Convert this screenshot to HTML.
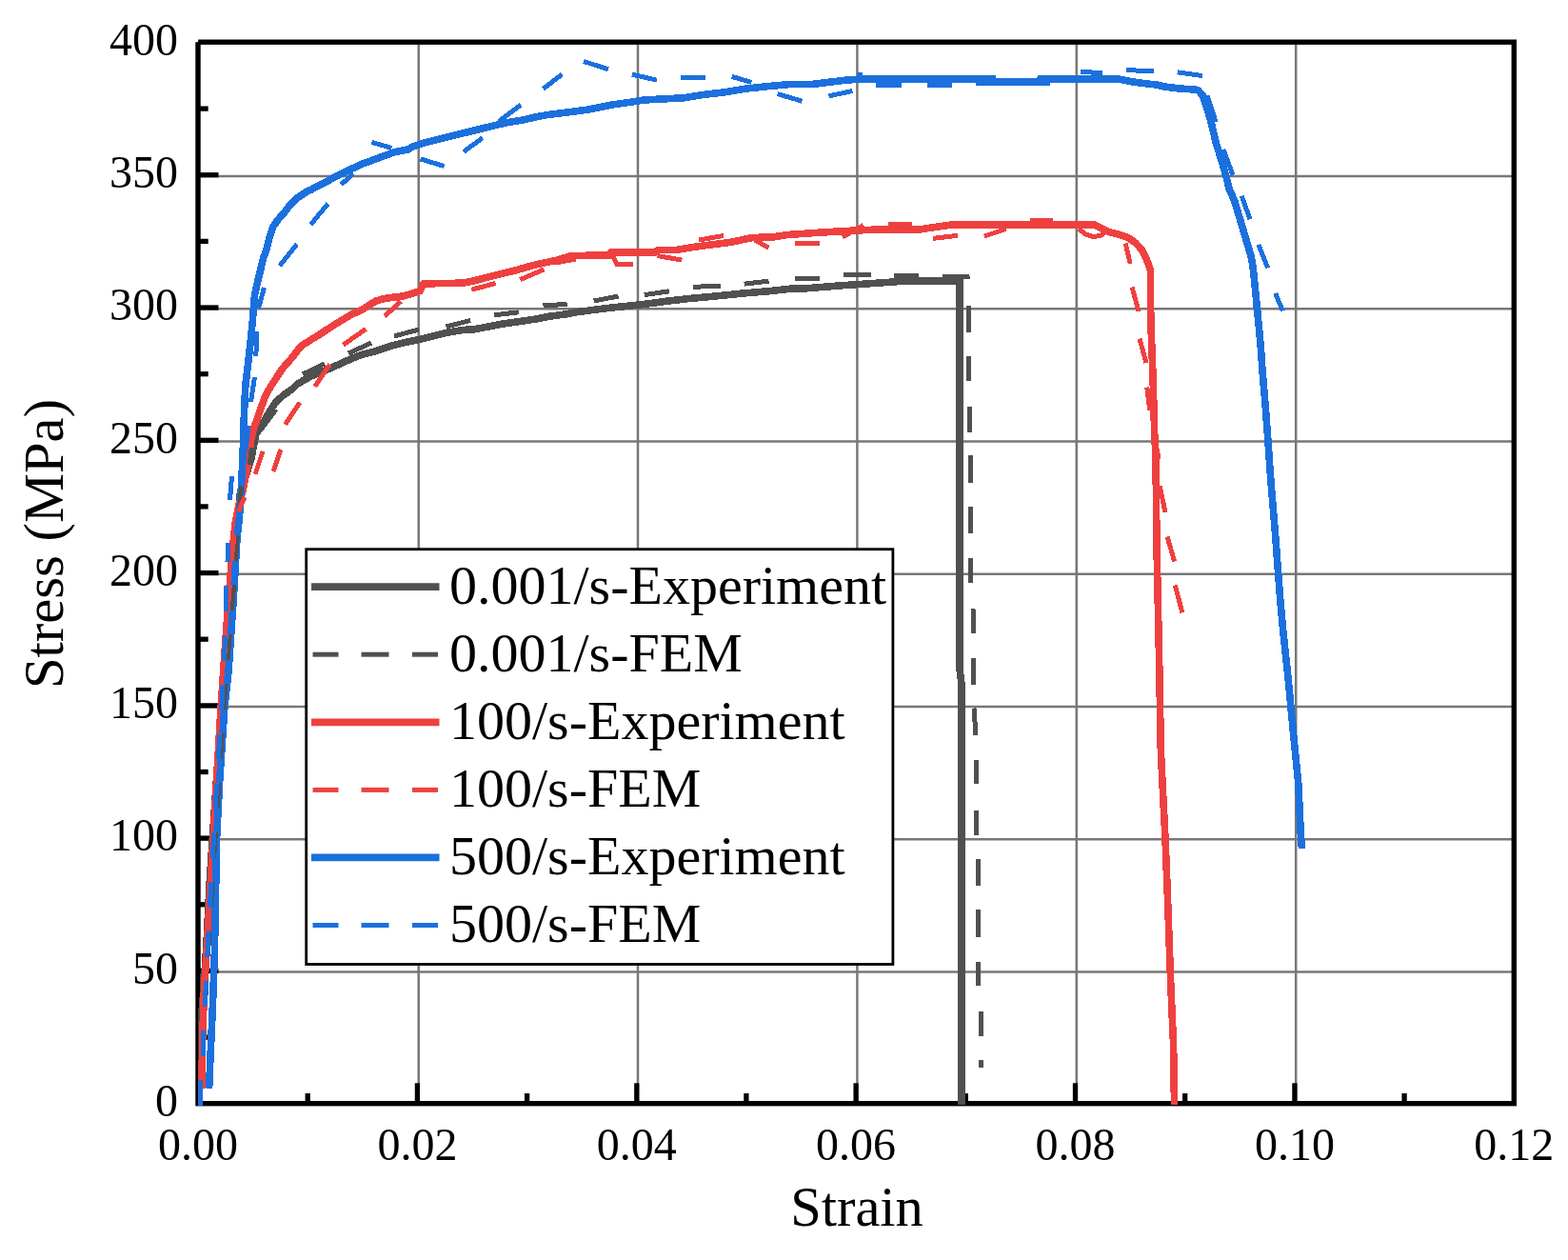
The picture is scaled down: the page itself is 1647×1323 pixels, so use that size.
<!DOCTYPE html>
<html><head><meta charset="utf-8"><title>Stress-Strain</title>
<style>
html,body{margin:0;padding:0;background:#fff;}
svg{display:block;}
.t{font-family:'Liberation Serif',serif;font-size:48px;fill:#000;}
.ax{font-family:'Liberation Serif',serif;font-size:58.5px;fill:#000;}
.lg{font-family:'Liberation Serif',serif;font-size:58px;fill:#000;}
</style></head><body>
<svg width="1647" height="1323" viewBox="0 0 1647 1323">
<rect width="1647" height="1323" fill="#fff"/>
<line x1="439.7" y1="47" x2="439.7" y2="1156" stroke="#777" stroke-width="2.5"/>
<line x1="670.0" y1="47" x2="670.0" y2="1156" stroke="#777" stroke-width="2.5"/>
<line x1="900.4" y1="47" x2="900.4" y2="1156" stroke="#777" stroke-width="2.5"/>
<line x1="1130.8" y1="47" x2="1130.8" y2="1156" stroke="#777" stroke-width="2.5"/>
<line x1="1361.2" y1="47" x2="1361.2" y2="1156" stroke="#777" stroke-width="2.5"/>
<line x1="211" y1="1020.6" x2="1588" y2="1020.6" stroke="#777" stroke-width="2.5"/>
<line x1="211" y1="881.3" x2="1588" y2="881.3" stroke="#777" stroke-width="2.5"/>
<line x1="211" y1="742.1" x2="1588" y2="742.1" stroke="#777" stroke-width="2.5"/>
<line x1="211" y1="602.8" x2="1588" y2="602.8" stroke="#777" stroke-width="2.5"/>
<line x1="211" y1="463.5" x2="1588" y2="463.5" stroke="#777" stroke-width="2.5"/>
<line x1="211" y1="324.2" x2="1588" y2="324.2" stroke="#777" stroke-width="2.5"/>
<line x1="211" y1="184.9" x2="1588" y2="184.9" stroke="#777" stroke-width="2.5"/>
<rect x="208" y="44.2" width="1382.3" height="1114.5" fill="none" stroke="#000" stroke-width="5.4"/>
<rect x="205" y="41" width="3.1" height="3.2" fill="#fff"/>
<line x1="323.2" y1="1158.7" x2="323.2" y2="1148.0" stroke="#000" stroke-width="5.3"/>
<line x1="438.4" y1="1158.7" x2="438.4" y2="1137.3" stroke="#000" stroke-width="5.3"/>
<line x1="553.6" y1="1158.7" x2="553.6" y2="1148.0" stroke="#000" stroke-width="5.3"/>
<line x1="668.8" y1="1158.7" x2="668.8" y2="1137.3" stroke="#000" stroke-width="5.3"/>
<line x1="783.9" y1="1158.7" x2="783.9" y2="1148.0" stroke="#000" stroke-width="5.3"/>
<line x1="899.1" y1="1158.7" x2="899.1" y2="1137.3" stroke="#000" stroke-width="5.3"/>
<line x1="1014.3" y1="1158.7" x2="1014.3" y2="1148.0" stroke="#000" stroke-width="5.3"/>
<line x1="1129.5" y1="1158.7" x2="1129.5" y2="1137.3" stroke="#000" stroke-width="5.3"/>
<line x1="1244.7" y1="1158.7" x2="1244.7" y2="1148.0" stroke="#000" stroke-width="5.3"/>
<line x1="1359.9" y1="1158.7" x2="1359.9" y2="1137.3" stroke="#000" stroke-width="5.3"/>
<line x1="1475.1" y1="1158.7" x2="1475.1" y2="1148.0" stroke="#000" stroke-width="5.3"/>
<line x1="208" y1="1089.1" x2="218.7" y2="1089.1" stroke="#000" stroke-width="5.3"/>
<line x1="208" y1="1019.4" x2="229.5" y2="1019.4" stroke="#000" stroke-width="5.3"/>
<line x1="208" y1="949.8" x2="218.7" y2="949.8" stroke="#000" stroke-width="5.3"/>
<line x1="208" y1="880.1" x2="229.5" y2="880.1" stroke="#000" stroke-width="5.3"/>
<line x1="208" y1="810.5" x2="218.7" y2="810.5" stroke="#000" stroke-width="5.3"/>
<line x1="208" y1="740.9" x2="229.5" y2="740.9" stroke="#000" stroke-width="5.3"/>
<line x1="208" y1="671.2" x2="218.7" y2="671.2" stroke="#000" stroke-width="5.3"/>
<line x1="208" y1="601.6" x2="229.5" y2="601.6" stroke="#000" stroke-width="5.3"/>
<line x1="208" y1="531.9" x2="218.7" y2="531.9" stroke="#000" stroke-width="5.3"/>
<line x1="208" y1="462.3" x2="229.5" y2="462.3" stroke="#000" stroke-width="5.3"/>
<line x1="208" y1="392.7" x2="218.7" y2="392.7" stroke="#000" stroke-width="5.3"/>
<line x1="208" y1="323.0" x2="229.5" y2="323.0" stroke="#000" stroke-width="5.3"/>
<line x1="208" y1="253.4" x2="218.7" y2="253.4" stroke="#000" stroke-width="5.3"/>
<line x1="208" y1="183.7" x2="229.5" y2="183.7" stroke="#000" stroke-width="5.3"/>
<line x1="208" y1="114.1" x2="218.7" y2="114.1" stroke="#000" stroke-width="5.3"/>
<clipPath id="pc"><rect x="208.2" y="40" width="1385" height="1121.5"/></clipPath>
<g shape-rendering="crispEdges" clip-path="url(#pc)">
<polyline points="209.2,1160.0 209.5,1097.0 211.0,1073.0 214.0,1040.0 217.0,990.0 220.0,930.0 224.0,870.0 228.0,810.0 232.0,750.0 236.5,700.0 241.0,650.0 245.5,612.0 248.0,570.0 250.5,540.0 252.0,520.0 256.4,505.0 260.0,494.0 263.8,482.0 267.0,465.0 269.0,455.0 272.5,450.0 275.8,445.4 280.0,437.8 284.3,430.2 289.4,422.7 297.5,415.1 306.7,408.7 312.0,403.4 325.6,395.6 349.9,385.4 362.5,379.6 375.0,374.2 380.0,372.4 395.1,368.6 410.2,363.3 425.4,359.5 440.5,356.5 455.6,352.7 470.7,349.0 485.8,346.5 497.3,345.9 511.9,343.2 526.4,340.3 544.6,337.7 562.9,335.0 577.4,332.2 595.6,329.7 608.0,327.3 614.6,326.6 636.4,323.7 658.3,321.4 680.1,319.0 702.0,316.0 722.3,313.7 751.4,311.0 780.6,308.0 809.7,305.5 831.6,303.0 844.6,303.0 881.0,300.0 917.4,297.5 945.0,295.5 953.0,295.0 1007.7,295.0 1007.7,700.0 1010.2,720.0 1010.2,1160.0" fill="none" stroke="#505050" stroke-width="7.6" stroke-linejoin="miter"/>
<polyline points="212.0,1142.6 212.5,1097.0 214.4,1040.0 217.0,1000.0 220.5,940.0 224.0,880.0 227.5,820.0 231.0,760.0 235.0,700.0 238.5,650.0 241.5,612.0 244.0,580.0 247.0,550.0 251.0,530.0 255.0,515.0 259.0,495.0 261.5,480.0 264.0,460.0 266.0,452.0 268.2,445.4 271.0,437.8 274.8,426.5 279.0,415.1 285.6,403.8 296.5,387.3 307.0,375.2 314.0,366.1 318.5,361.9 335.5,351.3 352.5,340.2 369.5,330.0 379.9,325.5 394.4,316.2 404.1,313.4 423.6,310.9 433.3,308.1 441.0,305.5 445.0,298.0 455.6,297.6 485.8,297.2 497.3,295.0 519.1,289.3 541.0,284.0 562.9,277.8 584.7,273.3 600.0,268.5 640.0,268.0 642.0,265.0 688.0,265.0 691.0,262.5 710.0,262.6 724.6,260.0 742.8,257.5 766.8,254.5 790.1,249.5 812.0,248.9 827.3,246.5 863.7,244.0 889.2,242.5 922.0,241.0 966.0,241.0 981.0,238.6 1000.0,236.0 1149.0,236.0 1166.0,244.0 1176.5,246.5 1184.4,249.2 1192.3,254.6 1199.2,262.0 1204.5,272.6 1208.3,283.2 1208.8,337.9 1211.1,396.8 1212.7,455.8 1214.0,480.0 1215.0,573.0 1217.5,688.0 1219.4,790.0 1224.2,884.7 1227.0,956.4 1229.4,1025.0 1232.6,1098.0 1233.5,1160.0" fill="none" stroke="#EF4040" stroke-width="7.6" stroke-linejoin="miter"/>
<polyline points="219.6,1142.6 220.5,1121.0 223.5,1054.0 225.4,1000.0 227.6,880.0 230.6,822.0 233.3,781.0 236.0,741.0 240.0,705.0 244.5,640.0 247.0,600.0 249.0,565.0 251.5,543.0 253.5,510.0 255.0,480.0 256.4,435.0 257.8,405.0 260.2,385.0 263.0,360.0 265.5,335.0 267.5,310.0 270.9,294.5 273.7,283.2 276.4,271.8 280.3,260.5 283.0,249.1 286.9,237.8 292.4,230.2 299.0,222.7 304.7,215.1 312.6,207.6 321.7,201.5 327.3,198.9 341.9,191.2 356.4,183.6 378.3,173.0 392.9,167.6 414.7,159.6 429.3,156.7 433.6,153.9 444.6,150.2 466.4,144.8 488.3,139.4 510.1,134.0 532.0,128.8 549.5,125.9 562.2,123.0 574.6,120.6 596.4,117.9 618.3,115.0 643.8,109.9 662.0,107.3 676.6,105.0 689.0,104.3 718.0,102.8 737.7,99.6 763.6,96.5 781.9,93.3 803.7,90.9 832.9,88.3 854.7,88.3 872.9,86.0 890.0,84.0 907.7,83.0 1043.0,83.0 1044.0,85.7 1092.0,85.7 1093.0,83.0 1175.0,83.0 1190.0,86.0 1205.0,88.0 1215.0,89.0 1223.0,91.0 1239.0,93.0 1255.0,94.0 1258.7,95.0 1263.2,100.1 1267.8,113.8 1272.3,128.9 1276.9,148.7 1283.0,168.4 1288.3,186.6 1291.3,199.5 1296.3,209.6 1302.2,229.3 1308.1,248.9 1314.0,268.6 1316.0,280.0 1318.2,300.4 1320.8,327.6 1324.1,361.6 1326.2,391.6 1328.9,422.9 1331.5,456.9 1334.5,499.8 1337.2,533.0 1340.0,566.3 1342.4,599.5 1345.0,632.7 1347.8,663.0 1353.3,714.3 1358.4,768.7 1363.8,823.0 1366.4,877.4 1367.5,891.0" fill="none" stroke="#1B70DE" stroke-width="7.6" stroke-linejoin="miter"/>
<polyline points="209.0,1160.0 212.5,1105.0 216.0,1045.0 219.5,985.0 223.0,925.0 227.0,865.0 231.0,805.0 235.0,745.0 239.0,695.0 243.0,645.0 246.5,605.0 249.0,565.0 251.5,535.0 253.5,511.0 257.0,500.0 262.0,488.0" fill="none" stroke="#505050" stroke-width="5.0" stroke-linejoin="miter" stroke-dasharray="27 25"/>
<polyline points="262.0,488.0 264.5,470.0" fill="none" stroke="#505050" stroke-width="5.0" stroke-linejoin="miter"/>
<polyline points="271.0,455.0 290.0,430.0" fill="none" stroke="#505050" stroke-width="5.0" stroke-linejoin="miter"/>
<polyline points="318.0,393.0 341.0,382.0" fill="none" stroke="#505050" stroke-width="5.0" stroke-linejoin="miter"/>
<polyline points="366.0,371.0 390.0,360.0" fill="none" stroke="#505050" stroke-width="5.0" stroke-linejoin="miter"/>
<polyline points="414.0,353.0 440.0,346.0" fill="none" stroke="#505050" stroke-width="5.0" stroke-linejoin="miter"/>
<polyline points="468.4,343.0 494.1,336.5" fill="none" stroke="#505050" stroke-width="5.0" stroke-linejoin="miter"/>
<polyline points="519.0,330.8 544.7,327.8" fill="none" stroke="#505050" stroke-width="5.0" stroke-linejoin="miter"/>
<polyline points="570.5,320.9 595.6,319.4" fill="none" stroke="#505050" stroke-width="5.0" stroke-linejoin="miter"/>
<polyline points="623.7,316.0 649.5,311.0" fill="none" stroke="#505050" stroke-width="5.0" stroke-linejoin="miter"/>
<polyline points="676.8,309.6 702.8,305.8" fill="none" stroke="#505050" stroke-width="5.0" stroke-linejoin="miter"/>
<polyline points="727.8,301.2 756.7,300.5" fill="none" stroke="#505050" stroke-width="5.0" stroke-linejoin="miter"/>
<polyline points="781.7,298.2 807.5,295.1" fill="none" stroke="#505050" stroke-width="5.0" stroke-linejoin="miter"/>
<polyline points="834.8,292.9 861.4,292.9" fill="none" stroke="#505050" stroke-width="5.0" stroke-linejoin="miter"/>
<polyline points="886.4,288.3 914.5,288.3" fill="none" stroke="#505050" stroke-width="5.0" stroke-linejoin="miter"/>
<polyline points="939.0,289.0 965.0,289.0" fill="none" stroke="#505050" stroke-width="5.0" stroke-linejoin="miter"/>
<polyline points="990.0,290.0 1016.0,290.0 1016.5,293.0" fill="none" stroke="#505050" stroke-width="5.0" stroke-linejoin="miter"/>
<polyline points="1017.0,321.0 1017.0,349.0" fill="none" stroke="#505050" stroke-width="5.0" stroke-linejoin="miter"/>
<polyline points="1017.5,374.0 1018.0,400.0" fill="none" stroke="#505050" stroke-width="5.0" stroke-linejoin="miter"/>
<polyline points="1018.0,427.0 1019.0,454.0" fill="none" stroke="#505050" stroke-width="5.0" stroke-linejoin="miter"/>
<polyline points="1019.5,478.0 1020.0,507.0" fill="none" stroke="#505050" stroke-width="5.0" stroke-linejoin="miter"/>
<polyline points="1019.5,532.0 1020.0,560.0" fill="none" stroke="#505050" stroke-width="5.0" stroke-linejoin="miter"/>
<polyline points="1019.5,586.0 1020.0,612.0" fill="none" stroke="#505050" stroke-width="5.0" stroke-linejoin="miter"/>
<polyline points="1022.0,639.0 1022.5,665.0" fill="none" stroke="#505050" stroke-width="5.0" stroke-linejoin="miter"/>
<polyline points="1022.5,691.0 1023.0,719.0" fill="none" stroke="#505050" stroke-width="5.0" stroke-linejoin="miter"/>
<polyline points="1023.0,743.5 1025.0,772.0" fill="none" stroke="#505050" stroke-width="5.0" stroke-linejoin="miter"/>
<polyline points="1025.0,797.5 1025.0,823.0" fill="none" stroke="#505050" stroke-width="5.0" stroke-linejoin="miter"/>
<polyline points="1025.0,851.0 1025.0,877.0" fill="none" stroke="#505050" stroke-width="5.0" stroke-linejoin="miter"/>
<polyline points="1027.5,902.0 1027.5,930.0" fill="none" stroke="#505050" stroke-width="5.0" stroke-linejoin="miter"/>
<polyline points="1027.5,955.0 1027.5,984.0" fill="none" stroke="#505050" stroke-width="5.0" stroke-linejoin="miter"/>
<polyline points="1027.5,1009.5 1027.5,1035.0" fill="none" stroke="#505050" stroke-width="5.0" stroke-linejoin="miter"/>
<polyline points="1030.0,1062.0 1030.0,1088.0" fill="none" stroke="#505050" stroke-width="5.0" stroke-linejoin="miter"/>
<polyline points="1030.0,1113.0 1030.0,1121.0" fill="none" stroke="#505050" stroke-width="5.0" stroke-linejoin="miter"/>
<polyline points="209.0,1160.0 211.5,1120.0 214.0,1060.0 217.0,1000.0 220.5,940.0 224.0,880.0 227.5,820.0 231.0,760.0 235.0,700.0 238.5,650.0 241.5,612.0 244.0,580.0 247.5,548.0 252.0,533.0 257.0,522.0" fill="none" stroke="#EF4040" stroke-width="5.0" stroke-linejoin="miter" stroke-dasharray="27 25"/>
<polyline points="268.0,498.0 276.0,474.0" fill="none" stroke="#EF4040" stroke-width="5.0" stroke-linejoin="miter"/>
<polyline points="287.0,495.0 295.0,472.0" fill="none" stroke="#EF4040" stroke-width="5.0" stroke-linejoin="miter"/>
<polyline points="299.5,445.7 314.9,422.5" fill="none" stroke="#EF4040" stroke-width="5.0" stroke-linejoin="miter"/>
<polyline points="330.9,405.8 346.4,382.7" fill="none" stroke="#EF4040" stroke-width="5.0" stroke-linejoin="miter"/>
<polyline points="360.5,362.1 384.3,345.4" fill="none" stroke="#EF4040" stroke-width="5.0" stroke-linejoin="miter"/>
<polyline points="404.0,332.0 421.0,316.5" fill="none" stroke="#EF4040" stroke-width="5.0" stroke-linejoin="miter"/>
<polyline points="445.0,300.0 470.0,298.0" fill="none" stroke="#EF4040" stroke-width="5.0" stroke-linejoin="miter"/>
<polyline points="495.4,304.2 520.5,297.4" fill="none" stroke="#EF4040" stroke-width="5.0" stroke-linejoin="miter"/>
<polyline points="546.3,293.6 571.3,283.0" fill="none" stroke="#EF4040" stroke-width="5.0" stroke-linejoin="miter"/>
<polyline points="583.0,276.0 605.0,272.0" fill="none" stroke="#EF4040" stroke-width="5.0" stroke-linejoin="miter"/>
<polyline points="643.4,268.6 648.0,277.7 665.4,277.7" fill="none" stroke="#EF4040" stroke-width="5.0" stroke-linejoin="miter"/>
<polyline points="690.6,268.6 716.4,273.1" fill="none" stroke="#EF4040" stroke-width="5.0" stroke-linejoin="miter"/>
<polyline points="734.0,252.0 760.0,247.5" fill="none" stroke="#EF4040" stroke-width="5.0" stroke-linejoin="miter"/>
<polyline points="793.0,252.0 807.5,260.2" fill="none" stroke="#EF4040" stroke-width="5.0" stroke-linejoin="miter"/>
<polyline points="834.8,255.7 861.4,255.7" fill="none" stroke="#EF4040" stroke-width="5.0" stroke-linejoin="miter"/>
<polyline points="885.0,249.0 907.0,236.5" fill="none" stroke="#EF4040" stroke-width="5.0" stroke-linejoin="miter"/>
<polyline points="933.0,235.0 958.0,235.5" fill="none" stroke="#EF4040" stroke-width="5.0" stroke-linejoin="miter"/>
<polyline points="980.0,250.4 1005.8,247.3" fill="none" stroke="#EF4040" stroke-width="5.0" stroke-linejoin="miter"/>
<polyline points="1033.8,248.1 1056.6,240.5" fill="none" stroke="#EF4040" stroke-width="5.0" stroke-linejoin="miter"/>
<polyline points="1081.5,231.8 1105.5,231.8" fill="none" stroke="#EF4040" stroke-width="5.0" stroke-linejoin="miter"/>
<polyline points="1133.0,240.0 1140.0,246.0 1148.0,248.5 1156.0,247.5 1160.0,244.0" fill="none" stroke="#EF4040" stroke-width="5.0" stroke-linejoin="miter"/>
<polyline points="1182.2,255.4 1187.2,277.0" fill="none" stroke="#EF4040" stroke-width="5.0" stroke-linejoin="miter"/>
<polyline points="1189.1,301.5 1196.0,327.1" fill="none" stroke="#EF4040" stroke-width="5.0" stroke-linejoin="miter"/>
<polyline points="1197.0,355.6 1203.9,381.1" fill="none" stroke="#EF4040" stroke-width="5.0" stroke-linejoin="miter"/>
<polyline points="1204.8,406.6 1207.8,431.0" fill="none" stroke="#EF4040" stroke-width="5.0" stroke-linejoin="miter"/>
<polyline points="1212.0,455.0 1217.0,482.0" fill="none" stroke="#EF4040" stroke-width="5.0" stroke-linejoin="miter"/>
<polyline points="1218.0,510.0 1224.0,538.0" fill="none" stroke="#EF4040" stroke-width="5.0" stroke-linejoin="miter"/>
<polyline points="1226.1,563.5 1233.6,589.6" fill="none" stroke="#EF4040" stroke-width="5.0" stroke-linejoin="miter"/>
<polyline points="1234.3,614.5 1241.8,643.2" fill="none" stroke="#EF4040" stroke-width="5.0" stroke-linejoin="miter"/>
<polyline points="210.4,1161.0 210.5,1135.0 213.0,1110.0 213.5,1081.0 216.0,1040.0 218.0,1000.0 221.0,940.0 224.5,880.0 229.0,800.0 233.0,740.0 236.0,680.0 238.0,610.0 240.0,570.0" fill="none" stroke="#1B70DE" stroke-width="5.0" stroke-linejoin="miter" stroke-dasharray="27 25"/>
<polyline points="241.5,525.0 243.5,500.0" fill="none" stroke="#1B70DE" stroke-width="5.0" stroke-linejoin="miter"/>
<polyline points="258.0,473.0 261.0,447.0" fill="none" stroke="#1B70DE" stroke-width="5.0" stroke-linejoin="miter"/>
<polyline points="263.5,422.0 267.5,396.0" fill="none" stroke="#1B70DE" stroke-width="5.0" stroke-linejoin="miter"/>
<polyline points="268.8,374.0 270.0,348.0" fill="none" stroke="#1B70DE" stroke-width="5.0" stroke-linejoin="miter"/>
<polyline points="271.5,324.0 277.5,302.0" fill="none" stroke="#1B70DE" stroke-width="5.0" stroke-linejoin="miter"/>
<polyline points="293.8,279.0 312.0,256.3" fill="none" stroke="#1B70DE" stroke-width="5.0" stroke-linejoin="miter"/>
<polyline points="326.4,235.8 344.6,213.8" fill="none" stroke="#1B70DE" stroke-width="5.0" stroke-linejoin="miter"/>
<polyline points="358.3,194.0 371.0,182.0" fill="none" stroke="#1B70DE" stroke-width="5.0" stroke-linejoin="miter"/>
<polyline points="390.3,149.3 411.4,155.5" fill="none" stroke="#1B70DE" stroke-width="5.0" stroke-linejoin="miter"/>
<polyline points="441.5,166.9 466.6,174.5" fill="none" stroke="#1B70DE" stroke-width="5.0" stroke-linejoin="miter"/>
<polyline points="487.0,159.3 506.8,144.9" fill="none" stroke="#1B70DE" stroke-width="5.0" stroke-linejoin="miter"/>
<polyline points="524.2,127.4 547.0,110.0" fill="none" stroke="#1B70DE" stroke-width="5.0" stroke-linejoin="miter"/>
<polyline points="570.5,93.3 590.3,78.1" fill="none" stroke="#1B70DE" stroke-width="5.0" stroke-linejoin="miter"/>
<polyline points="613.0,64.4 638.8,72.8" fill="none" stroke="#1B70DE" stroke-width="5.0" stroke-linejoin="miter"/>
<polyline points="663.9,78.1 690.0,84.2" fill="none" stroke="#1B70DE" stroke-width="5.0" stroke-linejoin="miter"/>
<polyline points="714.9,81.6 740.7,81.6" fill="none" stroke="#1B70DE" stroke-width="5.0" stroke-linejoin="miter"/>
<polyline points="768.8,80.4 789.3,86.4" fill="none" stroke="#1B70DE" stroke-width="5.0" stroke-linejoin="miter"/>
<polyline points="816.6,98.6 842.4,106.2" fill="none" stroke="#1B70DE" stroke-width="5.0" stroke-linejoin="miter"/>
<polyline points="870.5,100.9 895.5,95.5" fill="none" stroke="#1B70DE" stroke-width="5.0" stroke-linejoin="miter"/>
<polyline points="900.0,78.0 906.0,78.0" fill="none" stroke="#1B70DE" stroke-width="5.0" stroke-linejoin="miter"/>
<polyline points="920.0,89.0 947.0,89.0" fill="none" stroke="#1B70DE" stroke-width="5.0" stroke-linejoin="miter"/>
<polyline points="974.0,89.0 1000.0,89.0" fill="none" stroke="#1B70DE" stroke-width="5.0" stroke-linejoin="miter"/>
<polyline points="1025.0,87.3 1050.0,87.3" fill="none" stroke="#1B70DE" stroke-width="5.0" stroke-linejoin="miter"/>
<polyline points="1077.0,87.3 1103.0,87.3" fill="none" stroke="#1B70DE" stroke-width="5.0" stroke-linejoin="miter"/>
<polyline points="1135.0,75.0 1158.0,77.0" fill="none" stroke="#1B70DE" stroke-width="5.0" stroke-linejoin="miter"/>
<polyline points="1182.8,73.5 1211.6,75.0" fill="none" stroke="#1B70DE" stroke-width="5.0" stroke-linejoin="miter"/>
<polyline points="1236.7,75.8 1263.2,79.6" fill="none" stroke="#1B70DE" stroke-width="5.0" stroke-linejoin="miter"/>
<polyline points="1268.0,100.0 1277.0,128.0" fill="none" stroke="#1B70DE" stroke-width="5.0" stroke-linejoin="miter"/>
<polyline points="1285.0,157.0 1295.0,184.0" fill="none" stroke="#1B70DE" stroke-width="5.0" stroke-linejoin="miter"/>
<polyline points="1304.2,205.7 1313.0,230.3" fill="none" stroke="#1B70DE" stroke-width="5.0" stroke-linejoin="miter"/>
<polyline points="1321.9,256.8 1331.7,281.4" fill="none" stroke="#1B70DE" stroke-width="5.0" stroke-linejoin="miter"/>
<polyline points="1339.6,307.9 1347.4,326.5" fill="none" stroke="#1B70DE" stroke-width="5.0" stroke-linejoin="miter"/>
</g>
<text x="187" y="1172.0" text-anchor="end" class="t">0</text>
<text x="187" y="1032.7" text-anchor="end" class="t">50</text>
<text x="187" y="893.4" text-anchor="end" class="t">100</text>
<text x="187" y="754.2" text-anchor="end" class="t">150</text>
<text x="187" y="614.9" text-anchor="end" class="t">200</text>
<text x="187" y="475.6" text-anchor="end" class="t">250</text>
<text x="187" y="336.3" text-anchor="end" class="t">300</text>
<text x="187" y="197.0" text-anchor="end" class="t">350</text>
<text x="187" y="57.8" text-anchor="end" class="t">400</text>
<text x="208.0" y="1217.8" text-anchor="middle" class="t">0.00</text>
<text x="438.4" y="1217.8" text-anchor="middle" class="t">0.02</text>
<text x="668.8" y="1217.8" text-anchor="middle" class="t">0.04</text>
<text x="899.1" y="1217.8" text-anchor="middle" class="t">0.06</text>
<text x="1129.5" y="1217.8" text-anchor="middle" class="t">0.08</text>
<text x="1359.9" y="1217.8" text-anchor="middle" class="t">0.10</text>
<text x="1590.2" y="1217.8" text-anchor="middle" class="t">0.12</text>
<text x="900" y="1287" text-anchor="middle" class="ax">Strain</text>
<text transform="translate(65.5,571) rotate(-90)" text-anchor="middle" class="ax">Stress (MPa)</text>
<rect x="321.7" y="576.7" width="616.2" height="435.8" fill="#fff" stroke="#000" stroke-width="2.8"/>
<line x1="327" y1="616.2" x2="461.5" y2="616.2" stroke="#505050" stroke-width="7.8"/>
<text x="472" y="633.7" class="lg">0.001/s-Experiment</text>
<line x1="328.5" y1="687.2" x2="355.5" y2="687.2" stroke="#505050" stroke-width="5"/>
<line x1="379.5" y1="687.2" x2="408.5" y2="687.2" stroke="#505050" stroke-width="5"/>
<line x1="433" y1="687.2" x2="460" y2="687.2" stroke="#505050" stroke-width="5"/>
<text x="472" y="704.8" class="lg">0.001/s-FEM</text>
<line x1="327" y1="758.3" x2="461.5" y2="758.3" stroke="#EF4040" stroke-width="7.8"/>
<text x="472" y="775.8" class="lg">100/s-Experiment</text>
<line x1="328.5" y1="829.4" x2="355.5" y2="829.4" stroke="#EF4040" stroke-width="5"/>
<line x1="379.5" y1="829.4" x2="408.5" y2="829.4" stroke="#EF4040" stroke-width="5"/>
<line x1="433" y1="829.4" x2="460" y2="829.4" stroke="#EF4040" stroke-width="5"/>
<text x="472" y="846.9" class="lg">100/s-FEM</text>
<line x1="327" y1="900.4" x2="461.5" y2="900.4" stroke="#1B70DE" stroke-width="7.8"/>
<text x="472" y="917.9" class="lg">500/s-Experiment</text>
<line x1="328.5" y1="971.5" x2="355.5" y2="971.5" stroke="#1B70DE" stroke-width="5"/>
<line x1="379.5" y1="971.5" x2="408.5" y2="971.5" stroke="#1B70DE" stroke-width="5"/>
<line x1="433" y1="971.5" x2="460" y2="971.5" stroke="#1B70DE" stroke-width="5"/>
<text x="472" y="989.0" class="lg">500/s-FEM</text>
</svg>
</body></html>
